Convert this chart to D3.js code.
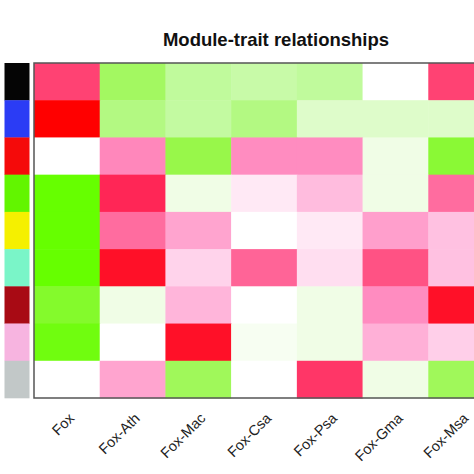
<!DOCTYPE html>
<html><head><meta charset="utf-8">
<script src="https://cdn.jsdelivr.net/npm/d3@7/dist/d3.min.js"></script>
<style>body{margin:0;background:#fff}svg{display:block}</style>
</head><body>
<script>
const traits = ["Fox","Fox-Ath","Fox-Mac","Fox-Csa","Fox-Psa","Fox-Gma","Fox-Msa"];
const modules = ["black","blue","red","green","yellow","aquamarine","darkred","pink","grey"];
const moduleColors = ["#050505","#2b3cf5","#f50a0a","#62f500","#f5f000","#7af5c8","#a80a14","#f7b4e0","#c2c8c8"];
const correlations = [
  [ 0.78,-0.68,-0.50,-0.45,-0.50, 0.00, 0.78],
  [ 1.00,-0.58,-0.48,-0.58,-0.30,-0.30,-0.30],
  [ 0.00, 0.52,-0.75, 0.50, 0.50,-0.15,-0.82],
  [-1.00, 0.88,-0.15, 0.10, 0.30,-0.15, 0.62],
  [-1.00, 0.62, 0.40, 0.00, 0.10, 0.42, 0.28],
  [-1.00, 0.95, 0.20, 0.65, 0.15, 0.72, 0.28],
  [-0.85,-0.15, 0.33, 0.00,-0.15, 0.50, 0.95],
  [-0.95, 0.00, 0.95,-0.08,-0.15, 0.35, 0.22],
  [ 0.00, 0.40,-0.70, 0.00, 0.82,-0.15,-0.70]
];
const title = "Module-trait relationships";

const W = 474, H = 474;
const svg = d3.select("body").append("svg").attr("width", W).attr("height", H)
  .style("font-family", "'Liberation Sans', Arial, sans-serif");

const x = d3.scaleBand().domain(traits).range([34, 494]);
const y = d3.scaleBand().domain(modules).range([63, 398]);
const color = d3.scaleLinear()
  .domain([-1, -0.75, -0.5, -0.25, 0, 0.25, 0.5, 0.75, 0.9, 1])
  .range(["#66ff00","#98f74a","#c0fa9c","#e6fcd6","#ffffff","#ffc8e6","#ff8cc0","#ff4a7c","#ff2050","#ff0000"])
  .clamp(true);

const cells = [];
correlations.forEach((row, i) => row.forEach((v, j) => cells.push({m: modules[i], t: traits[j], v})));

svg.append("g").selectAll("rect").data(cells).join("rect")
  .attr("x", d => x(d.t)).attr("y", d => y(d.m))
  .attr("width", x.bandwidth() + 0.5).attr("height", y.bandwidth() + 0.5)
  .attr("fill", d => color(d.v));

// module color bar
svg.append("g").selectAll("rect").data(modules).join("rect")
  .attr("x", 4.5).attr("y", d => y(d)).attr("width", 25).attr("height", y.bandwidth() + 0.3)
  .attr("fill", (d, i) => moduleColors[i]);

// border
const [x0] = x.range(), [y0, y1] = y.range();
svg.append("path")
  .attr("d", `M${W + 5},${y0} H${x0} V${y1} H${W + 5}`)
  .attr("fill", "none").attr("stroke", "#555").attr("stroke-width", 1.5);

// x labels
svg.append("g").selectAll("text").data(traits).join("text")
  .attr("transform", d => `translate(${x(d) + x.bandwidth() / 2 + 1},${412}) rotate(-45)`)
  .attr("text-anchor", "end").attr("dy", "0.7em")
  .attr("font-size", 14.5).attr("fill", "#222")
  .text(d => d);

svg.append("text").attr("x", 276).attr("y", 46).attr("text-anchor", "middle")
  .attr("font-size", 18.5).attr("font-weight", "bold").attr("fill", "#111").text(title);
</script>
</body></html>
